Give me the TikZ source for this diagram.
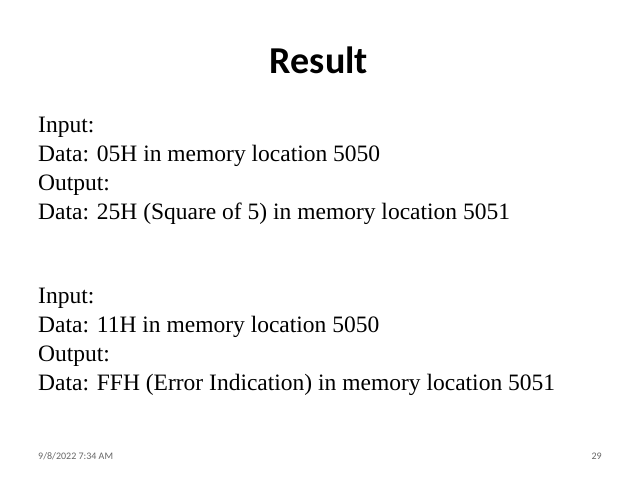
\documentclass[tikz,border=0pt]{standalone}
\usepackage{fontspec}
\setmainfont{Liberation Serif}
\newfontfamily\calibri{Carlito}
\tikzset{
  bodytext/.style={anchor=base west, inner sep=0pt, font=\fontsize{23.5}{28}\selectfont},
  foottext/.style={inner sep=0pt, font=\calibri\fontsize{10}{12}\selectfont, text=black!60}
}
\begin{document}
\begin{tikzpicture}[x=1pt,y=-1pt]
  \useasboundingbox (0,0) rectangle (638,478);
  \node[inner sep=0pt, anchor=base, font=\calibri\bfseries\fontsize{38}{44}\selectfont] (title) at (319,74) {Result};
  % first case
  \node[bodytext] (inA) at (38,133) {Input:};
  \node[bodytext] (dataA) at (38,162) {Data: 05H in memory location 5050};
  \node[bodytext] (outA) at (38,191) {Output:};
  \node[bodytext] (resA) at (38,220) {Data: 25H (Square of 5) in memory location 5051};
  % second case
  \node[bodytext] (inB) at (38,304) {Input:};
  \node[bodytext] (dataB) at (38,333) {Data: 11H in memory location 5050};
  \node[bodytext] (outB) at (38,362) {Output:};
  \node[bodytext] (resB) at (38,391) {Data: FFH (Error Indication) in memory location 5051};
  % footer
  \node[foottext, anchor=base west] (date) at (38,460) {9/8/2022 7:34 AM};
  \node[foottext, anchor=base east] (page) at (602,460) {29};
\end{tikzpicture}
\end{document}
